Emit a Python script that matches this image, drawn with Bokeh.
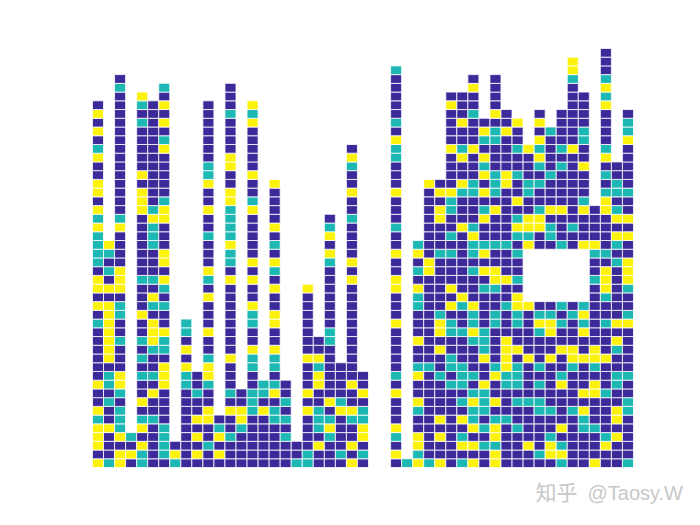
from bokeh.embed import file_html
from bokeh.models import ColumnDataSource, Label, Range1d
from bokeh.plotting import figure
from bokeh.resources import INLINE

# one string per column, read bottom to top: P purple, T teal, Y yellow, "." empty
left_columns = [
    "YPYYYTYPPYPPPPPPTPYPYYPTTTTYTYPYYPPYTPYPYP",
    "TPPPYPPTPTTPYYYYYYYPYPTPTY",
    "YYPYTTTPTYYPPPTPPTTPYYYPPPPYTPPPPPPPPPPPPPPTP",
    "PYPT",
    "TTYPYTPYPPTPTPTPPYPPPTPPPPPPPYYYPYPPPPPTPTY",
    "PPPPPTPPYPTPPTYYYPTYPTPPPTTTYTPPPPPPPPPPPP",
    "PTTTTPPPPYYYPTTYPPTPTYPYYPPPYYTPPPPPYTPYPYPT",
    "TYP",
    "PPPPPPPPPTTYPYPTT",
    "PYPYPYPPTPP",
    "PPTPPYYPPTYYTPPYPPPYPTYPPPTPPYPPYTTPPPPPPP",
    "PYPYTP",
    "PPPTPPYPTPPPYPPPPPPPPYPTTYTTTTYYPPYYPPPPTPPP",
    "PPPPTYYPP",
    "PPPPPPTTTPPTTYPPTTYPPYPYPPPPPYTPPYPPPPPYTY",
    "PPPPPPYPTT",
    "PPPPPTTPYTPTTYPPYYPPYPTYPTPYPPPPY",
    "PPPTPTPTPP",
    "TPP",
    "TTPPPPYPYPPPYPPPPPPPY",
    "PPYPTTTPPYYTYPP",
    "PPPTYTPYPPPPPPTTPPPPPPPTYPYTP",
    "PTPPPPYTPPPP",
    "YPYPPTYPPYPPPPPPPPPPPYPYPPPPTPPYPPTYP",
    "PTPYYTTPYPP",
]
gap_columns = ["", ""]
right_columns = [
    "PYPTYPPPYPTPPPPPYPPPYYPPYPPTPPPYPPPTTYPTPPPPPT",
    "T",
    "YTYYPPTYPPYTPPYPPPTTYPTPYT",
    "TPPPPPPPPPPTPPPPPPPPPPYYPPPPPPPPY",
    "YPPYPYPPPPTPPYPYYTPPPPPPTPPPYYPYP",
    "PPPPPPPPPTPTTPPTTPYPYPPPTPTPPTTYPPPPYPPPPYP",
    "TPYTPYPTPTTTPPPTPPTYPPPPPPPYPPPTYPPYTPPYPPP",
    "YPYPYTTYTPTPPPTYTTYPPPTPTTYTPPPTTPPPYPPPTPPYP",
    "PPTPTPTTTYPPYTTTPPPPTPYPYTPPYTPYPYTYPTYP",
    "YYTYYTPYPPYTPPPPTTPPTYYPPTPPPYPTTTPPPTTPYPPPP",
    "PPPPPTPPPTTYYYYPPPTPPYPPPTPPPPPPYYPPPPYPP",
    "PPPPTPPTPTTTPYPPTTYYPTPPTPTYTPYPPTPPTPPY",
    "PPYPPPPTPPPPYPPPPPY......YTYYPPTTPPPY",
    "PTPPPPTTPTPTPPPTYTP......PPYYTPPTPTYTYPYP",
    "PYYTPPTPPPPPYPPYYTP......PTTPYPPPTPPPPT",
    "TYTPYPPPPYTPPYPPTPT......TPPPYPPPPTPTPPPP",
    "PPPPPPTPPPPTYYPPPTP......PPTPPPPPPPPYPPPPPPPTYY",
    "PPPPTTYPYPPPYPPYTYT......YPPPYTPPPYPPTTPPPP",
    "YPPPTPPPYYPTYYPPPPPPPTPPTYPPPP",
    "PPYTPPPPTPPPYPPPTPPTYYYPTPPPPYYTPTPYTPPPPYTYTPPP",
    "PPPYPYYPPTTPPTYPYPPPPPPTPTYPYTPTTPP",
    "TPPPPPTTPPTPPPPPYTPPTYYYPPYPYPPTPPPPPYTTP",
]
palette = {"P": "#3d2a9a", "T": "#1db8b4", "Y": "#fdf20c"}

xs, ys, colors = [], [], []
for c, col in enumerate(left_columns + gap_columns + right_columns):
    for r, code in enumerate(col):
        if code == ".":
            continue
        xs.append(c + 0.5)
        ys.append(r + 0.5)
        colors.append(palette[code])

source = ColumnDataSource(data={"x": xs, "y": ys, "color": colors})

p = figure(
    width=684,
    height=509,
    output_backend="svg",
    toolbar_location=None,
    x_range=Range1d(start=-8.33, end=53.62),
    y_range=Range1d(start=-4.81, end=53.49),
    min_border=0,
)
p.axis.visible = False
p.grid.visible = False
p.outline_line_color = None

p.rect("x", "y", width=1, height=1, source=source, fill_color="color", line_color="white", line_width=0.8)

p.add_layout(Label(x=535, y=4, x_units="screen", y_units="screen", text="知乎",
                   text_font="Noto Sans CJK SC", text_font_size="21px", text_color="#c8c8c8"))
p.add_layout(Label(x=587, y=6, x_units="screen", y_units="screen", text="@Taosy.W",
                   text_font="Liberation Sans", text_font_size="20px", text_color="#c8c8c8"))

open("out.html", "w").write(file_html(p, INLINE))
